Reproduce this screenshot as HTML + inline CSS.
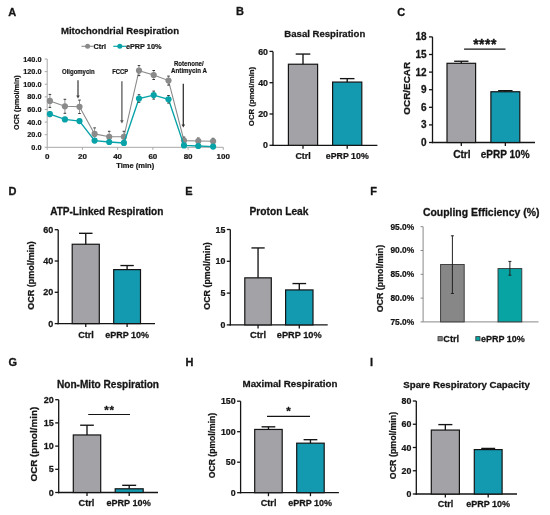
<!DOCTYPE html>
<html><head><meta charset="utf-8"><style>
html,body{margin:0;padding:0;background:#fff;width:550px;height:515px;overflow:hidden}
svg{display:block;font-family:"Liberation Sans",sans-serif;filter:blur(0.3px)}
text{stroke:#1a1a1a;stroke-linejoin:round}
</style></head><body>
<svg width="550" height="515" viewBox="0 0 550 515">
<rect width="550" height="515" fill="#fff"/>
<line x1="47.20" y1="59.03" x2="47.20" y2="147.30" stroke="#a8a8a8" stroke-width="1.0" />
<line x1="47.20" y1="147.30" x2="223.30" y2="147.30" stroke="#a8a8a8" stroke-width="1.0" />
<line x1="44.70" y1="147.30" x2="47.20" y2="147.30" stroke="#a8a8a8" stroke-width="1.0" />
<text x="41.50" y="149.91" font-size="7.3" text-anchor="end" font-weight="bold" fill="#141414" stroke-width="0.204" >0.0</text>
<line x1="44.70" y1="134.69" x2="47.20" y2="134.69" stroke="#a8a8a8" stroke-width="1.0" />
<text x="41.50" y="137.30" font-size="7.3" text-anchor="end" font-weight="bold" fill="#141414" stroke-width="0.204" >20.0</text>
<line x1="44.70" y1="122.08" x2="47.20" y2="122.08" stroke="#a8a8a8" stroke-width="1.0" />
<text x="41.50" y="124.69" font-size="7.3" text-anchor="end" font-weight="bold" fill="#141414" stroke-width="0.204" >40.0</text>
<line x1="44.70" y1="109.47" x2="47.20" y2="109.47" stroke="#a8a8a8" stroke-width="1.0" />
<text x="41.50" y="112.08" font-size="7.3" text-anchor="end" font-weight="bold" fill="#141414" stroke-width="0.204" >60.0</text>
<line x1="44.70" y1="96.86" x2="47.20" y2="96.86" stroke="#a8a8a8" stroke-width="1.0" />
<text x="41.50" y="99.47" font-size="7.3" text-anchor="end" font-weight="bold" fill="#141414" stroke-width="0.204" >80.0</text>
<line x1="44.70" y1="84.25" x2="47.20" y2="84.25" stroke="#a8a8a8" stroke-width="1.0" />
<text x="41.50" y="86.86" font-size="7.3" text-anchor="end" font-weight="bold" fill="#141414" stroke-width="0.204" >100.0</text>
<line x1="44.70" y1="71.64" x2="47.20" y2="71.64" stroke="#a8a8a8" stroke-width="1.0" />
<text x="41.50" y="74.25" font-size="7.3" text-anchor="end" font-weight="bold" fill="#141414" stroke-width="0.204" >120.0</text>
<line x1="44.70" y1="59.03" x2="47.20" y2="59.03" stroke="#a8a8a8" stroke-width="1.0" />
<text x="41.50" y="61.64" font-size="7.3" text-anchor="end" font-weight="bold" fill="#141414" stroke-width="0.204" >140.0</text>
<line x1="47.20" y1="147.30" x2="47.20" y2="149.80" stroke="#a8a8a8" stroke-width="1.0" />
<text x="47.20" y="158.50" font-size="8" text-anchor="middle" font-weight="bold" fill="#141414" stroke-width="0.224" >0</text>
<line x1="82.42" y1="147.30" x2="82.42" y2="149.80" stroke="#a8a8a8" stroke-width="1.0" />
<text x="82.42" y="158.50" font-size="8" text-anchor="middle" font-weight="bold" fill="#141414" stroke-width="0.224" >20</text>
<line x1="117.64" y1="147.30" x2="117.64" y2="149.80" stroke="#a8a8a8" stroke-width="1.0" />
<text x="117.64" y="158.50" font-size="8" text-anchor="middle" font-weight="bold" fill="#141414" stroke-width="0.224" >40</text>
<line x1="152.86" y1="147.30" x2="152.86" y2="149.80" stroke="#a8a8a8" stroke-width="1.0" />
<text x="152.86" y="158.50" font-size="8" text-anchor="middle" font-weight="bold" fill="#141414" stroke-width="0.224" >60</text>
<line x1="188.08" y1="147.30" x2="188.08" y2="149.80" stroke="#a8a8a8" stroke-width="1.0" />
<text x="188.08" y="158.50" font-size="8" text-anchor="middle" font-weight="bold" fill="#141414" stroke-width="0.224" >80</text>
<line x1="223.30" y1="147.30" x2="223.30" y2="149.80" stroke="#a8a8a8" stroke-width="1.0" />
<text x="223.30" y="158.50" font-size="8" text-anchor="middle" font-weight="bold" fill="#141414" stroke-width="0.224" >100</text>
<text x="135.25" y="167.80" font-size="7.5" text-anchor="middle" font-weight="bold" fill="#141414" stroke-width="0.210" >Time (min)</text>
<text x="0" y="0" font-size="7.2" text-anchor="middle" font-weight="bold" fill="#141414" stroke-width="0.202" transform="translate(19.30,102.60) rotate(-90)">OCR (pmol/min)</text>
<polyline fill="none" stroke="#8a8a8a" stroke-width="1.1" points="49.90,100.90 64.90,106.30 79.50,106.80 94.60,133.90 109.20,136.80 123.90,136.80 139.00,70.60 153.70,75.00 168.50,80.60 184.00,140.60 198.30,141.00 213.10,141.30"/>
<line x1="49.90" y1="94.40" x2="49.90" y2="107.40" stroke="#8a8a8a" stroke-width="0.9" />
<line x1="48.60" y1="94.40" x2="51.20" y2="94.40" stroke="#3a3a3a" stroke-width="1.0" />
<line x1="48.60" y1="107.40" x2="51.20" y2="107.40" stroke="#3a3a3a" stroke-width="1.0" />
<line x1="64.90" y1="99.30" x2="64.90" y2="113.30" stroke="#8a8a8a" stroke-width="0.9" />
<line x1="63.60" y1="99.30" x2="66.20" y2="99.30" stroke="#3a3a3a" stroke-width="1.0" />
<line x1="63.60" y1="113.30" x2="66.20" y2="113.30" stroke="#3a3a3a" stroke-width="1.0" />
<line x1="79.50" y1="100.10" x2="79.50" y2="113.50" stroke="#8a8a8a" stroke-width="0.9" />
<line x1="78.20" y1="100.10" x2="80.80" y2="100.10" stroke="#3a3a3a" stroke-width="1.0" />
<line x1="78.20" y1="113.50" x2="80.80" y2="113.50" stroke="#3a3a3a" stroke-width="1.0" />
<line x1="94.60" y1="127.90" x2="94.60" y2="139.90" stroke="#8a8a8a" stroke-width="0.9" />
<line x1="93.30" y1="127.90" x2="95.90" y2="127.90" stroke="#3a3a3a" stroke-width="1.0" />
<line x1="93.30" y1="139.90" x2="95.90" y2="139.90" stroke="#3a3a3a" stroke-width="1.0" />
<line x1="109.20" y1="131.30" x2="109.20" y2="142.30" stroke="#8a8a8a" stroke-width="0.9" />
<line x1="107.90" y1="131.30" x2="110.50" y2="131.30" stroke="#3a3a3a" stroke-width="1.0" />
<line x1="107.90" y1="142.30" x2="110.50" y2="142.30" stroke="#3a3a3a" stroke-width="1.0" />
<line x1="123.90" y1="131.30" x2="123.90" y2="142.30" stroke="#8a8a8a" stroke-width="0.9" />
<line x1="122.60" y1="131.30" x2="125.20" y2="131.30" stroke="#3a3a3a" stroke-width="1.0" />
<line x1="122.60" y1="142.30" x2="125.20" y2="142.30" stroke="#3a3a3a" stroke-width="1.0" />
<line x1="139.00" y1="65.60" x2="139.00" y2="75.60" stroke="#8a8a8a" stroke-width="0.9" />
<line x1="137.70" y1="65.60" x2="140.30" y2="65.60" stroke="#3a3a3a" stroke-width="1.0" />
<line x1="137.70" y1="75.60" x2="140.30" y2="75.60" stroke="#3a3a3a" stroke-width="1.0" />
<line x1="153.70" y1="70.50" x2="153.70" y2="79.50" stroke="#8a8a8a" stroke-width="0.9" />
<line x1="152.40" y1="70.50" x2="155.00" y2="70.50" stroke="#3a3a3a" stroke-width="1.0" />
<line x1="152.40" y1="79.50" x2="155.00" y2="79.50" stroke="#3a3a3a" stroke-width="1.0" />
<line x1="168.50" y1="76.10" x2="168.50" y2="85.10" stroke="#8a8a8a" stroke-width="0.9" />
<line x1="167.20" y1="76.10" x2="169.80" y2="76.10" stroke="#3a3a3a" stroke-width="1.0" />
<line x1="167.20" y1="85.10" x2="169.80" y2="85.10" stroke="#3a3a3a" stroke-width="1.0" />
<line x1="184.00" y1="137.10" x2="184.00" y2="144.10" stroke="#8a8a8a" stroke-width="0.9" />
<line x1="182.70" y1="137.10" x2="185.30" y2="137.10" stroke="#3a3a3a" stroke-width="1.0" />
<line x1="182.70" y1="144.10" x2="185.30" y2="144.10" stroke="#3a3a3a" stroke-width="1.0" />
<line x1="198.30" y1="138.00" x2="198.30" y2="144.00" stroke="#8a8a8a" stroke-width="0.9" />
<line x1="197.00" y1="138.00" x2="199.60" y2="138.00" stroke="#3a3a3a" stroke-width="1.0" />
<line x1="197.00" y1="144.00" x2="199.60" y2="144.00" stroke="#3a3a3a" stroke-width="1.0" />
<line x1="213.10" y1="138.30" x2="213.10" y2="144.30" stroke="#8a8a8a" stroke-width="0.9" />
<line x1="211.80" y1="138.30" x2="214.40" y2="138.30" stroke="#3a3a3a" stroke-width="1.0" />
<line x1="211.80" y1="144.30" x2="214.40" y2="144.30" stroke="#3a3a3a" stroke-width="1.0" />
<circle cx="49.90" cy="100.90" r="3.1" fill="#8a8a8a"/>
<circle cx="64.90" cy="106.30" r="3.1" fill="#8a8a8a"/>
<circle cx="79.50" cy="106.80" r="3.1" fill="#8a8a8a"/>
<circle cx="94.60" cy="133.90" r="3.1" fill="#8a8a8a"/>
<circle cx="109.20" cy="136.80" r="3.1" fill="#8a8a8a"/>
<circle cx="123.90" cy="136.80" r="3.1" fill="#8a8a8a"/>
<circle cx="139.00" cy="70.60" r="3.1" fill="#8a8a8a"/>
<circle cx="153.70" cy="75.00" r="3.1" fill="#8a8a8a"/>
<circle cx="168.50" cy="80.60" r="3.1" fill="#8a8a8a"/>
<circle cx="184.00" cy="140.60" r="3.1" fill="#8a8a8a"/>
<circle cx="198.30" cy="141.00" r="3.1" fill="#8a8a8a"/>
<circle cx="213.10" cy="141.30" r="3.1" fill="#8a8a8a"/>
<polyline fill="none" stroke="#08a3a8" stroke-width="1.4" points="49.90,114.10 64.90,119.40 79.50,121.10 94.60,140.60 109.20,142.00 123.90,142.90 139.00,98.50 153.70,95.10 168.50,99.30 184.00,145.40 198.30,146.00 213.10,146.60"/>
<line x1="49.90" y1="111.60" x2="49.90" y2="116.60" stroke="#08a3a8" stroke-width="0.9" />
<line x1="48.60" y1="111.60" x2="51.20" y2="111.60" stroke="#3a3a3a" stroke-width="1.0" />
<line x1="48.60" y1="116.60" x2="51.20" y2="116.60" stroke="#3a3a3a" stroke-width="1.0" />
<line x1="64.90" y1="117.40" x2="64.90" y2="121.40" stroke="#08a3a8" stroke-width="0.9" />
<line x1="63.60" y1="117.40" x2="66.20" y2="117.40" stroke="#3a3a3a" stroke-width="1.0" />
<line x1="63.60" y1="121.40" x2="66.20" y2="121.40" stroke="#3a3a3a" stroke-width="1.0" />
<line x1="79.50" y1="119.10" x2="79.50" y2="123.10" stroke="#08a3a8" stroke-width="0.9" />
<line x1="78.20" y1="119.10" x2="80.80" y2="119.10" stroke="#3a3a3a" stroke-width="1.0" />
<line x1="78.20" y1="123.10" x2="80.80" y2="123.10" stroke="#3a3a3a" stroke-width="1.0" />
<line x1="94.60" y1="138.60" x2="94.60" y2="142.60" stroke="#08a3a8" stroke-width="0.9" />
<line x1="93.30" y1="138.60" x2="95.90" y2="138.60" stroke="#3a3a3a" stroke-width="1.0" />
<line x1="93.30" y1="142.60" x2="95.90" y2="142.60" stroke="#3a3a3a" stroke-width="1.0" />
<line x1="109.20" y1="140.00" x2="109.20" y2="144.00" stroke="#08a3a8" stroke-width="0.9" />
<line x1="107.90" y1="140.00" x2="110.50" y2="140.00" stroke="#3a3a3a" stroke-width="1.0" />
<line x1="107.90" y1="144.00" x2="110.50" y2="144.00" stroke="#3a3a3a" stroke-width="1.0" />
<line x1="123.90" y1="140.90" x2="123.90" y2="144.90" stroke="#08a3a8" stroke-width="0.9" />
<line x1="122.60" y1="140.90" x2="125.20" y2="140.90" stroke="#3a3a3a" stroke-width="1.0" />
<line x1="122.60" y1="144.90" x2="125.20" y2="144.90" stroke="#3a3a3a" stroke-width="1.0" />
<line x1="139.00" y1="94.70" x2="139.00" y2="102.30" stroke="#08a3a8" stroke-width="0.9" />
<line x1="137.70" y1="94.70" x2="140.30" y2="94.70" stroke="#3a3a3a" stroke-width="1.0" />
<line x1="137.70" y1="102.30" x2="140.30" y2="102.30" stroke="#3a3a3a" stroke-width="1.0" />
<line x1="153.70" y1="91.10" x2="153.70" y2="99.10" stroke="#08a3a8" stroke-width="0.9" />
<line x1="152.40" y1="91.10" x2="155.00" y2="91.10" stroke="#3a3a3a" stroke-width="1.0" />
<line x1="152.40" y1="99.10" x2="155.00" y2="99.10" stroke="#3a3a3a" stroke-width="1.0" />
<line x1="168.50" y1="95.50" x2="168.50" y2="103.10" stroke="#08a3a8" stroke-width="0.9" />
<line x1="167.20" y1="95.50" x2="169.80" y2="95.50" stroke="#3a3a3a" stroke-width="1.0" />
<line x1="167.20" y1="103.10" x2="169.80" y2="103.10" stroke="#3a3a3a" stroke-width="1.0" />
<line x1="184.00" y1="143.90" x2="184.00" y2="146.90" stroke="#08a3a8" stroke-width="0.9" />
<line x1="182.70" y1="143.90" x2="185.30" y2="143.90" stroke="#3a3a3a" stroke-width="1.0" />
<line x1="182.70" y1="146.90" x2="185.30" y2="146.90" stroke="#3a3a3a" stroke-width="1.0" />
<line x1="198.30" y1="144.50" x2="198.30" y2="147.50" stroke="#08a3a8" stroke-width="0.9" />
<line x1="197.00" y1="144.50" x2="199.60" y2="144.50" stroke="#3a3a3a" stroke-width="1.0" />
<line x1="197.00" y1="147.50" x2="199.60" y2="147.50" stroke="#3a3a3a" stroke-width="1.0" />
<line x1="213.10" y1="145.10" x2="213.10" y2="148.10" stroke="#08a3a8" stroke-width="0.9" />
<line x1="211.80" y1="145.10" x2="214.40" y2="145.10" stroke="#3a3a3a" stroke-width="1.0" />
<line x1="211.80" y1="148.10" x2="214.40" y2="148.10" stroke="#3a3a3a" stroke-width="1.0" />
<circle cx="49.90" cy="114.10" r="3.1" fill="#08a3a8"/>
<circle cx="64.90" cy="119.40" r="3.1" fill="#08a3a8"/>
<circle cx="79.50" cy="121.10" r="3.1" fill="#08a3a8"/>
<circle cx="94.60" cy="140.60" r="3.1" fill="#08a3a8"/>
<circle cx="109.20" cy="142.00" r="3.1" fill="#08a3a8"/>
<circle cx="123.90" cy="142.90" r="3.1" fill="#08a3a8"/>
<circle cx="139.00" cy="98.50" r="3.1" fill="#08a3a8"/>
<circle cx="153.70" cy="95.10" r="3.1" fill="#08a3a8"/>
<circle cx="168.50" cy="99.30" r="3.1" fill="#08a3a8"/>
<circle cx="184.00" cy="145.40" r="3.1" fill="#08a3a8"/>
<circle cx="198.30" cy="146.00" r="3.1" fill="#08a3a8"/>
<circle cx="213.10" cy="146.60" r="3.1" fill="#08a3a8"/>
<line x1="78.00" y1="80.30" x2="78.00" y2="96.10" stroke="#444" stroke-width="1.3" />
<polygon points="76.20,95.40 79.80,95.40 78.00,98.60" fill="#444"/>
<line x1="121.90" y1="81.30" x2="121.90" y2="121.00" stroke="#5a5a5a" stroke-width="1.3" />
<polygon points="120.10,120.30 123.70,120.30 121.90,123.50" fill="#5a5a5a"/>
<line x1="183.30" y1="83.70" x2="183.30" y2="125.10" stroke="#333" stroke-width="1.3" />
<polygon points="181.50,124.40 185.10,124.40 183.30,127.60" fill="#333"/>
<text x="78.30" y="73.50" font-size="6.5" text-anchor="middle" font-weight="bold" fill="#141414" stroke-width="0.182" textLength="32.6" lengthAdjust="spacingAndGlyphs">Oligomycin</text>
<text x="120.20" y="73.50" font-size="6.5" text-anchor="middle" font-weight="bold" fill="#141414" stroke-width="0.182" textLength="16.0" lengthAdjust="spacingAndGlyphs">FCCP</text>
<text x="188.80" y="65.70" font-size="6.5" text-anchor="middle" font-weight="bold" fill="#141414" stroke-width="0.182" textLength="29.8" lengthAdjust="spacingAndGlyphs">Rotenone/</text>
<text x="189.00" y="73.30" font-size="6.5" text-anchor="middle" font-weight="bold" fill="#141414" stroke-width="0.182" textLength="35.8" lengthAdjust="spacingAndGlyphs">Antimycin A</text>
<text x="120.00" y="34.30" font-size="9.58" text-anchor="middle" font-weight="bold" fill="#141414" stroke-width="0.268" >Mitochondrial Respiration</text>
<line x1="81.50" y1="46.30" x2="93.20" y2="46.30" stroke="#8a8a8a" stroke-width="1.1" />
<circle cx="87.60" cy="46.30" r="2.5" fill="#8a8a8a"/>
<text x="93.50" y="48.90" font-size="7.3" text-anchor="start" font-weight="bold" fill="#141414" stroke-width="0.204" >Ctrl</text>
<line x1="113.30" y1="46.30" x2="126.00" y2="46.30" stroke="#08a3a8" stroke-width="1.2" />
<circle cx="119.80" cy="46.30" r="2.5" fill="#08a3a8"/>
<text x="125.90" y="48.90" font-size="7.3" text-anchor="start" font-weight="bold" fill="#141414" stroke-width="0.204" >ePRP 10%</text>
<text x="8.20" y="16.20" font-size="11" text-anchor="start" font-weight="bold" fill="#141414" stroke-width="0.308" >A</text>
<line x1="273.00" y1="51.40" x2="273.00" y2="145.95" stroke="#141414" stroke-width="1.3" />
<line x1="272.35" y1="145.30" x2="377.40" y2="145.30" stroke="#141414" stroke-width="1.3" />
<line x1="269.50" y1="145.30" x2="273.00" y2="145.30" stroke="#141414" stroke-width="1.3" />
<text x="268.00" y="148.41" font-size="8.8" text-anchor="end" font-weight="bold" fill="#141414" stroke-width="0.246" >0</text>
<line x1="269.50" y1="114.00" x2="273.00" y2="114.00" stroke="#141414" stroke-width="1.3" />
<text x="268.00" y="117.11" font-size="8.8" text-anchor="end" font-weight="bold" fill="#141414" stroke-width="0.246" >20</text>
<line x1="269.50" y1="82.70" x2="273.00" y2="82.70" stroke="#141414" stroke-width="1.3" />
<text x="268.00" y="85.81" font-size="8.8" text-anchor="end" font-weight="bold" fill="#141414" stroke-width="0.246" >40</text>
<line x1="269.50" y1="51.40" x2="273.00" y2="51.40" stroke="#141414" stroke-width="1.3" />
<text x="268.00" y="54.51" font-size="8.8" text-anchor="end" font-weight="bold" fill="#141414" stroke-width="0.246" >60</text>
<rect x="288.40" y="64.23" width="29.20" height="81.07" fill="#a3a2a6" stroke="#141414" stroke-width="1.2"/>
<line x1="303.00" y1="64.23" x2="303.00" y2="54.06" stroke="#141414" stroke-width="1.35" />
<line x1="295.70" y1="54.06" x2="310.30" y2="54.06" stroke="#141414" stroke-width="1.35" />
<line x1="303.00" y1="145.30" x2="303.00" y2="148.80" stroke="#141414" stroke-width="1.3" />
<rect x="332.60" y="82.07" width="29.20" height="63.23" fill="#1399b0" stroke="#141414" stroke-width="1.2"/>
<line x1="347.20" y1="82.07" x2="347.20" y2="78.63" stroke="#141414" stroke-width="1.35" />
<line x1="339.90" y1="78.63" x2="354.50" y2="78.63" stroke="#141414" stroke-width="1.35" />
<line x1="347.20" y1="145.30" x2="347.20" y2="148.80" stroke="#141414" stroke-width="1.3" />
<text x="303.10" y="158.60" font-size="8.9" text-anchor="middle" font-weight="bold" fill="#141414" stroke-width="0.249" >Ctrl</text>
<text x="347.30" y="158.60" font-size="8.8" text-anchor="middle" font-weight="bold" fill="#141414" stroke-width="0.246" >ePRP 10%</text>
<text x="324.80" y="36.60" font-size="9.59" text-anchor="middle" font-weight="bold" fill="#141414" stroke-width="0.269" >Basal Respiration</text>
<text x="236.00" y="15.40" font-size="11" text-anchor="start" font-weight="bold" fill="#141414" stroke-width="0.308" >B</text>
<text x="0" y="0" font-size="7.8" text-anchor="middle" font-weight="bold" fill="#141414" stroke-width="0.218" transform="translate(253.90,96.50) rotate(-90)">OCR (pmol/min)</text>
<line x1="432.50" y1="36.90" x2="432.50" y2="143.15" stroke="#141414" stroke-width="1.3" />
<line x1="431.85" y1="142.50" x2="535.00" y2="142.50" stroke="#141414" stroke-width="1.3" />
<line x1="429.00" y1="142.50" x2="432.50" y2="142.50" stroke="#141414" stroke-width="1.3" />
<text x="426.50" y="146.03" font-size="10" text-anchor="end" font-weight="bold" fill="#141414" stroke-width="0.280" >0</text>
<line x1="429.00" y1="124.90" x2="432.50" y2="124.90" stroke="#141414" stroke-width="1.3" />
<text x="426.50" y="128.44" font-size="10" text-anchor="end" font-weight="bold" fill="#141414" stroke-width="0.280" >3</text>
<line x1="429.00" y1="107.30" x2="432.50" y2="107.30" stroke="#141414" stroke-width="1.3" />
<text x="426.50" y="110.83" font-size="10" text-anchor="end" font-weight="bold" fill="#141414" stroke-width="0.280" >6</text>
<line x1="429.00" y1="89.70" x2="432.50" y2="89.70" stroke="#141414" stroke-width="1.3" />
<text x="426.50" y="93.23" font-size="10" text-anchor="end" font-weight="bold" fill="#141414" stroke-width="0.280" >9</text>
<line x1="429.00" y1="72.10" x2="432.50" y2="72.10" stroke="#141414" stroke-width="1.3" />
<text x="426.50" y="75.63" font-size="10" text-anchor="end" font-weight="bold" fill="#141414" stroke-width="0.280" >12</text>
<line x1="429.00" y1="54.50" x2="432.50" y2="54.50" stroke="#141414" stroke-width="1.3" />
<text x="426.50" y="58.03" font-size="10" text-anchor="end" font-weight="bold" fill="#141414" stroke-width="0.280" >15</text>
<line x1="429.00" y1="36.90" x2="432.50" y2="36.90" stroke="#141414" stroke-width="1.3" />
<text x="426.50" y="40.43" font-size="10" text-anchor="end" font-weight="bold" fill="#141414" stroke-width="0.280" >18</text>
<rect x="447.00" y="63.30" width="28.60" height="79.20" fill="#a3a2a6" stroke="#141414" stroke-width="1.2"/>
<line x1="461.30" y1="63.30" x2="461.30" y2="61.25" stroke="#141414" stroke-width="1.35" />
<line x1="454.15" y1="61.25" x2="468.45" y2="61.25" stroke="#141414" stroke-width="1.35" />
<line x1="461.30" y1="142.50" x2="461.30" y2="146.00" stroke="#141414" stroke-width="1.3" />
<rect x="490.90" y="91.75" width="28.90" height="50.75" fill="#1399b0" stroke="#141414" stroke-width="1.2"/>
<line x1="505.35" y1="91.75" x2="505.35" y2="90.70" stroke="#141414" stroke-width="1.35" />
<line x1="498.12" y1="90.70" x2="512.57" y2="90.70" stroke="#141414" stroke-width="1.35" />
<line x1="505.35" y1="142.50" x2="505.35" y2="146.00" stroke="#141414" stroke-width="1.3" />
<text x="461.90" y="157.60" font-size="10.2" text-anchor="middle" font-weight="bold" fill="#141414" stroke-width="0.286" >Ctrl</text>
<text x="505.20" y="157.60" font-size="10.0" text-anchor="middle" font-weight="bold" fill="#141414" stroke-width="0.280" >ePRP 10%</text>
<text x="0.00" y="0.00" font-size="9" text-anchor="middle" font-weight="bold" fill="#141414" stroke-width="0.252" ></text>
<text x="397.30" y="16.00" font-size="11" text-anchor="start" font-weight="bold" fill="#141414" stroke-width="0.308" >C</text>
<text x="0" y="0" font-size="9.9" text-anchor="middle" font-weight="bold" fill="#141414" stroke-width="0.277" transform="translate(409.80,88.30) rotate(-90)">OCR/ECAR</text>
<line x1="464.10" y1="49.10" x2="505.50" y2="49.10" stroke="#141414" stroke-width="1.1" />
<text x="485.05" y="49.00" font-size="14" text-anchor="middle" font-weight="bold" fill="#141414" stroke-width="0.392" letter-spacing="0.5">****</text>
<line x1="58.20" y1="229.70" x2="58.20" y2="324.25" stroke="#141414" stroke-width="1.3" />
<line x1="57.55" y1="323.60" x2="155.00" y2="323.60" stroke="#141414" stroke-width="1.3" />
<line x1="54.70" y1="323.60" x2="58.20" y2="323.60" stroke="#141414" stroke-width="1.3" />
<text x="53.20" y="326.78" font-size="9" text-anchor="end" font-weight="bold" fill="#141414" stroke-width="0.252" >0</text>
<line x1="54.70" y1="292.30" x2="58.20" y2="292.30" stroke="#141414" stroke-width="1.3" />
<text x="53.20" y="295.48" font-size="9" text-anchor="end" font-weight="bold" fill="#141414" stroke-width="0.252" >20</text>
<line x1="54.70" y1="261.00" x2="58.20" y2="261.00" stroke="#141414" stroke-width="1.3" />
<text x="53.20" y="264.18" font-size="9" text-anchor="end" font-weight="bold" fill="#141414" stroke-width="0.252" >40</text>
<line x1="54.70" y1="229.70" x2="58.20" y2="229.70" stroke="#141414" stroke-width="1.3" />
<text x="53.20" y="232.88" font-size="9" text-anchor="end" font-weight="bold" fill="#141414" stroke-width="0.252" >60</text>
<rect x="72.20" y="244.25" width="27.10" height="79.35" fill="#a3a2a6" stroke="#141414" stroke-width="1.2"/>
<line x1="85.75" y1="244.25" x2="85.75" y2="233.30" stroke="#141414" stroke-width="1.35" />
<line x1="78.97" y1="233.30" x2="92.53" y2="233.30" stroke="#141414" stroke-width="1.35" />
<line x1="85.75" y1="323.60" x2="85.75" y2="327.10" stroke="#141414" stroke-width="1.3" />
<rect x="113.70" y="269.61" width="26.80" height="53.99" fill="#1399b0" stroke="#141414" stroke-width="1.2"/>
<line x1="127.10" y1="269.61" x2="127.10" y2="265.54" stroke="#141414" stroke-width="1.35" />
<line x1="120.40" y1="265.54" x2="133.80" y2="265.54" stroke="#141414" stroke-width="1.35" />
<line x1="127.10" y1="323.60" x2="127.10" y2="327.10" stroke="#141414" stroke-width="1.3" />
<text x="86.00" y="337.90" font-size="9.1" text-anchor="middle" font-weight="bold" fill="#141414" stroke-width="0.255" >Ctrl</text>
<text x="127.20" y="337.90" font-size="9.0" text-anchor="middle" font-weight="bold" fill="#141414" stroke-width="0.252" >ePRP 10%</text>
<text x="106.75" y="215.40" font-size="10.05" text-anchor="middle" font-weight="bold" fill="#141414" stroke-width="0.281" >ATP-Linked Respiration</text>
<text x="8.60" y="194.60" font-size="11" text-anchor="start" font-weight="bold" fill="#141414" stroke-width="0.308" >D</text>
<text x="0" y="0" font-size="9.0" text-anchor="middle" font-weight="bold" fill="#141414" stroke-width="0.252" transform="translate(34.20,275.50) rotate(-90)">OCR (pmol/min)</text>
<line x1="230.30" y1="229.50" x2="230.30" y2="325.55" stroke="#141414" stroke-width="1.3" />
<line x1="229.65" y1="324.90" x2="327.70" y2="324.90" stroke="#141414" stroke-width="1.3" />
<line x1="226.80" y1="324.90" x2="230.30" y2="324.90" stroke="#141414" stroke-width="1.3" />
<text x="225.30" y="328.01" font-size="8.8" text-anchor="end" font-weight="bold" fill="#141414" stroke-width="0.246" >0</text>
<line x1="226.80" y1="293.10" x2="230.30" y2="293.10" stroke="#141414" stroke-width="1.3" />
<text x="225.30" y="296.21" font-size="8.8" text-anchor="end" font-weight="bold" fill="#141414" stroke-width="0.246" >5</text>
<line x1="226.80" y1="261.30" x2="230.30" y2="261.30" stroke="#141414" stroke-width="1.3" />
<text x="225.30" y="264.41" font-size="8.8" text-anchor="end" font-weight="bold" fill="#141414" stroke-width="0.246" >10</text>
<line x1="226.80" y1="229.50" x2="230.30" y2="229.50" stroke="#141414" stroke-width="1.3" />
<text x="225.30" y="232.61" font-size="8.8" text-anchor="end" font-weight="bold" fill="#141414" stroke-width="0.246" >15</text>
<rect x="244.80" y="277.84" width="26.50" height="47.06" fill="#a3a2a6" stroke="#141414" stroke-width="1.2"/>
<line x1="258.05" y1="277.84" x2="258.05" y2="247.94" stroke="#141414" stroke-width="1.35" />
<line x1="251.43" y1="247.94" x2="264.68" y2="247.94" stroke="#141414" stroke-width="1.35" />
<line x1="258.05" y1="324.90" x2="258.05" y2="328.40" stroke="#141414" stroke-width="1.3" />
<rect x="285.60" y="289.92" width="27.40" height="34.98" fill="#1399b0" stroke="#141414" stroke-width="1.2"/>
<line x1="299.30" y1="289.92" x2="299.30" y2="283.56" stroke="#141414" stroke-width="1.35" />
<line x1="292.45" y1="283.56" x2="306.15" y2="283.56" stroke="#141414" stroke-width="1.35" />
<line x1="299.30" y1="324.90" x2="299.30" y2="328.40" stroke="#141414" stroke-width="1.3" />
<text x="258.00" y="338.20" font-size="9.3" text-anchor="middle" font-weight="bold" fill="#141414" stroke-width="0.260" >Ctrl</text>
<text x="299.20" y="338.20" font-size="9.2" text-anchor="middle" font-weight="bold" fill="#141414" stroke-width="0.258" >ePRP 10%</text>
<text x="279.00" y="215.20" font-size="10.2" text-anchor="middle" font-weight="bold" fill="#141414" stroke-width="0.286" >Proton Leak</text>
<text x="185.20" y="194.50" font-size="11" text-anchor="start" font-weight="bold" fill="#141414" stroke-width="0.308" >E</text>
<text x="0" y="0" font-size="8.9" text-anchor="middle" font-weight="bold" fill="#141414" stroke-width="0.249" transform="translate(210.00,276.00) rotate(-90)">OCR (pmol/min)</text>
<line x1="58.70" y1="399.70" x2="58.70" y2="493.15" stroke="#141414" stroke-width="1.3" />
<line x1="58.05" y1="492.50" x2="158.00" y2="492.50" stroke="#141414" stroke-width="1.3" />
<line x1="55.20" y1="492.50" x2="58.70" y2="492.50" stroke="#141414" stroke-width="1.3" />
<text x="53.70" y="495.68" font-size="9" text-anchor="end" font-weight="bold" fill="#141414" stroke-width="0.252" >0</text>
<line x1="55.20" y1="469.30" x2="58.70" y2="469.30" stroke="#141414" stroke-width="1.3" />
<text x="53.70" y="472.48" font-size="9" text-anchor="end" font-weight="bold" fill="#141414" stroke-width="0.252" >5</text>
<line x1="55.20" y1="446.10" x2="58.70" y2="446.10" stroke="#141414" stroke-width="1.3" />
<text x="53.70" y="449.28" font-size="9" text-anchor="end" font-weight="bold" fill="#141414" stroke-width="0.252" >10</text>
<line x1="55.20" y1="422.90" x2="58.70" y2="422.90" stroke="#141414" stroke-width="1.3" />
<text x="53.70" y="426.08" font-size="9" text-anchor="end" font-weight="bold" fill="#141414" stroke-width="0.252" >15</text>
<line x1="55.20" y1="399.70" x2="58.70" y2="399.70" stroke="#141414" stroke-width="1.3" />
<text x="53.70" y="402.88" font-size="9" text-anchor="end" font-weight="bold" fill="#141414" stroke-width="0.252" >20</text>
<rect x="73.30" y="434.96" width="27.40" height="57.54" fill="#a3a2a6" stroke="#141414" stroke-width="1.2"/>
<line x1="87.00" y1="434.96" x2="87.00" y2="425.22" stroke="#141414" stroke-width="1.35" />
<line x1="80.15" y1="425.22" x2="93.85" y2="425.22" stroke="#141414" stroke-width="1.35" />
<line x1="87.00" y1="492.50" x2="87.00" y2="496.00" stroke="#141414" stroke-width="1.3" />
<rect x="115.20" y="488.79" width="28.00" height="3.71" fill="#1399b0" stroke="#141414" stroke-width="1.2"/>
<line x1="129.20" y1="488.79" x2="129.20" y2="485.31" stroke="#141414" stroke-width="1.35" />
<line x1="122.20" y1="485.31" x2="136.20" y2="485.31" stroke="#141414" stroke-width="1.35" />
<line x1="129.20" y1="492.50" x2="129.20" y2="496.00" stroke="#141414" stroke-width="1.3" />
<text x="86.50" y="505.80" font-size="9.2" text-anchor="middle" font-weight="bold" fill="#141414" stroke-width="0.258" >Ctrl</text>
<text x="128.60" y="505.80" font-size="9.1" text-anchor="middle" font-weight="bold" fill="#141414" stroke-width="0.255" >ePRP 10%</text>
<text x="108.00" y="388.00" font-size="10.1" text-anchor="middle" font-weight="bold" fill="#141414" stroke-width="0.283" >Non-Mito Respiration</text>
<text x="8.40" y="366.00" font-size="11" text-anchor="start" font-weight="bold" fill="#141414" stroke-width="0.308" >G</text>
<text x="0" y="0" font-size="9.8" text-anchor="middle" font-weight="bold" fill="#141414" stroke-width="0.274" transform="translate(37.40,444.10) rotate(-90)">OCR (pmol/min)</text>
<line x1="88.20" y1="414.50" x2="130.00" y2="414.50" stroke="#141414" stroke-width="1.1" />
<text x="109.50" y="414.30" font-size="11.5" text-anchor="middle" font-weight="bold" fill="#141414" stroke-width="0.322" letter-spacing="0.8">**</text>
<line x1="240.60" y1="401.20" x2="240.60" y2="493.35" stroke="#141414" stroke-width="1.3" />
<line x1="239.95" y1="492.70" x2="338.90" y2="492.70" stroke="#141414" stroke-width="1.3" />
<line x1="237.10" y1="492.70" x2="240.60" y2="492.70" stroke="#141414" stroke-width="1.3" />
<text x="235.60" y="495.81" font-size="8.8" text-anchor="end" font-weight="bold" fill="#141414" stroke-width="0.246" >0</text>
<line x1="237.10" y1="462.20" x2="240.60" y2="462.20" stroke="#141414" stroke-width="1.3" />
<text x="235.60" y="465.31" font-size="8.8" text-anchor="end" font-weight="bold" fill="#141414" stroke-width="0.246" >50</text>
<line x1="237.10" y1="431.70" x2="240.60" y2="431.70" stroke="#141414" stroke-width="1.3" />
<text x="235.60" y="434.81" font-size="8.8" text-anchor="end" font-weight="bold" fill="#141414" stroke-width="0.246" >100</text>
<line x1="237.10" y1="401.20" x2="240.60" y2="401.20" stroke="#141414" stroke-width="1.3" />
<text x="235.60" y="404.31" font-size="8.8" text-anchor="end" font-weight="bold" fill="#141414" stroke-width="0.246" >150</text>
<rect x="254.70" y="429.44" width="27.50" height="63.26" fill="#a3a2a6" stroke="#141414" stroke-width="1.2"/>
<line x1="268.45" y1="429.44" x2="268.45" y2="426.82" stroke="#141414" stroke-width="1.35" />
<line x1="261.57" y1="426.82" x2="275.32" y2="426.82" stroke="#141414" stroke-width="1.35" />
<line x1="268.45" y1="492.70" x2="268.45" y2="496.20" stroke="#141414" stroke-width="1.3" />
<rect x="296.70" y="443.17" width="27.50" height="49.53" fill="#1399b0" stroke="#141414" stroke-width="1.2"/>
<line x1="310.45" y1="443.17" x2="310.45" y2="439.69" stroke="#141414" stroke-width="1.35" />
<line x1="303.57" y1="439.69" x2="317.32" y2="439.69" stroke="#141414" stroke-width="1.35" />
<line x1="310.45" y1="492.70" x2="310.45" y2="496.20" stroke="#141414" stroke-width="1.3" />
<text x="268.60" y="506.20" font-size="9.1" text-anchor="middle" font-weight="bold" fill="#141414" stroke-width="0.255" >Ctrl</text>
<text x="310.10" y="506.20" font-size="9.0" text-anchor="middle" font-weight="bold" fill="#141414" stroke-width="0.252" >ePRP 10%</text>
<text x="290.00" y="387.30" font-size="9.77" text-anchor="middle" font-weight="bold" fill="#141414" stroke-width="0.274" >Maximal Respiration</text>
<text x="185.60" y="366.00" font-size="11" text-anchor="start" font-weight="bold" fill="#141414" stroke-width="0.308" >H</text>
<text x="0" y="0" font-size="8.6" text-anchor="middle" font-weight="bold" fill="#141414" stroke-width="0.241" transform="translate(214.60,445.50) rotate(-90)">OCR (pmol/min)</text>
<line x1="267.00" y1="416.40" x2="310.00" y2="416.40" stroke="#141414" stroke-width="1.1" />
<text x="288.50" y="415.00" font-size="11.5" text-anchor="middle" font-weight="bold" fill="#141414" stroke-width="0.322" letter-spacing="0">*</text>
<line x1="416.30" y1="401.00" x2="416.30" y2="494.65" stroke="#141414" stroke-width="1.3" />
<line x1="415.65" y1="494.00" x2="517.00" y2="494.00" stroke="#141414" stroke-width="1.3" />
<line x1="412.80" y1="494.00" x2="416.30" y2="494.00" stroke="#141414" stroke-width="1.3" />
<text x="411.30" y="497.11" font-size="8.8" text-anchor="end" font-weight="bold" fill="#141414" stroke-width="0.246" >0</text>
<line x1="412.80" y1="470.75" x2="416.30" y2="470.75" stroke="#141414" stroke-width="1.3" />
<text x="411.30" y="473.86" font-size="8.8" text-anchor="end" font-weight="bold" fill="#141414" stroke-width="0.246" >20</text>
<line x1="412.80" y1="447.50" x2="416.30" y2="447.50" stroke="#141414" stroke-width="1.3" />
<text x="411.30" y="450.61" font-size="8.8" text-anchor="end" font-weight="bold" fill="#141414" stroke-width="0.246" >40</text>
<line x1="412.80" y1="424.25" x2="416.30" y2="424.25" stroke="#141414" stroke-width="1.3" />
<text x="411.30" y="427.36" font-size="8.8" text-anchor="end" font-weight="bold" fill="#141414" stroke-width="0.246" >60</text>
<line x1="412.80" y1="401.00" x2="416.30" y2="401.00" stroke="#141414" stroke-width="1.3" />
<text x="411.30" y="404.11" font-size="8.8" text-anchor="end" font-weight="bold" fill="#141414" stroke-width="0.246" >80</text>
<rect x="431.30" y="430.06" width="28.10" height="63.94" fill="#a3a2a6" stroke="#141414" stroke-width="1.2"/>
<line x1="445.35" y1="430.06" x2="445.35" y2="424.60" stroke="#141414" stroke-width="1.35" />
<line x1="438.33" y1="424.60" x2="452.38" y2="424.60" stroke="#141414" stroke-width="1.35" />
<line x1="445.35" y1="494.00" x2="445.35" y2="497.50" stroke="#141414" stroke-width="1.3" />
<rect x="474.30" y="449.59" width="27.80" height="44.41" fill="#1399b0" stroke="#141414" stroke-width="1.2"/>
<line x1="488.20" y1="449.59" x2="488.20" y2="448.43" stroke="#141414" stroke-width="1.35" />
<line x1="481.25" y1="448.43" x2="495.15" y2="448.43" stroke="#141414" stroke-width="1.35" />
<line x1="488.20" y1="494.00" x2="488.20" y2="497.50" stroke="#141414" stroke-width="1.3" />
<text x="445.40" y="507.00" font-size="9.0" text-anchor="middle" font-weight="bold" fill="#141414" stroke-width="0.252" >Ctrl</text>
<text x="488.10" y="507.00" font-size="9.0" text-anchor="middle" font-weight="bold" fill="#141414" stroke-width="0.252" >ePRP 10%</text>
<text x="466.60" y="387.50" font-size="9.7" text-anchor="middle" font-weight="bold" fill="#141414" stroke-width="0.272" >Spare Respiratory Capacity</text>
<text x="370.00" y="366.00" font-size="11" text-anchor="start" font-weight="bold" fill="#141414" stroke-width="0.308" >I</text>
<text x="0" y="0" font-size="8.85" text-anchor="middle" font-weight="bold" fill="#141414" stroke-width="0.248" transform="translate(395.50,445.50) rotate(-90)">OCR (pmol/min)</text>
<line x1="423.10" y1="226.70" x2="423.10" y2="321.90" stroke="#888888" stroke-width="1.0" />
<line x1="423.10" y1="321.90" x2="538.50" y2="321.90" stroke="#888888" stroke-width="1.0" />
<line x1="420.60" y1="321.90" x2="423.10" y2="321.90" stroke="#888888" stroke-width="1.0" />
<text x="414.20" y="324.87" font-size="8.4" text-anchor="end" font-weight="bold" fill="#141414" stroke-width="0.235" >75.0%</text>
<line x1="420.60" y1="298.10" x2="423.10" y2="298.10" stroke="#888888" stroke-width="1.0" />
<text x="414.20" y="301.07" font-size="8.4" text-anchor="end" font-weight="bold" fill="#141414" stroke-width="0.235" >80.0%</text>
<line x1="420.60" y1="274.30" x2="423.10" y2="274.30" stroke="#888888" stroke-width="1.0" />
<text x="414.20" y="277.27" font-size="8.4" text-anchor="end" font-weight="bold" fill="#141414" stroke-width="0.235" >85.0%</text>
<line x1="420.60" y1="250.50" x2="423.10" y2="250.50" stroke="#888888" stroke-width="1.0" />
<text x="414.20" y="253.47" font-size="8.4" text-anchor="end" font-weight="bold" fill="#141414" stroke-width="0.235" >90.0%</text>
<line x1="420.60" y1="226.70" x2="423.10" y2="226.70" stroke="#888888" stroke-width="1.0" />
<text x="414.20" y="229.67" font-size="8.4" text-anchor="end" font-weight="bold" fill="#141414" stroke-width="0.235" >95.0%</text>
<rect x="440.60" y="264.54" width="23.60" height="57.36" fill="#878787" stroke="#333" stroke-width="0.9"/>
<rect x="498.00" y="268.59" width="23.80" height="53.31" fill="#08a4a4" stroke="#333" stroke-width="0.9"/>
<line x1="452.40" y1="235.80" x2="452.40" y2="293.50" stroke="#222" stroke-width="1.0" />
<line x1="450.90" y1="235.80" x2="453.90" y2="235.80" stroke="#222" stroke-width="1.0" />
<line x1="450.90" y1="293.50" x2="453.90" y2="293.50" stroke="#222" stroke-width="1.0" />
<line x1="509.90" y1="261.40" x2="509.90" y2="275.20" stroke="#222" stroke-width="1.0" />
<line x1="508.40" y1="261.40" x2="511.40" y2="261.40" stroke="#222" stroke-width="1.0" />
<line x1="508.40" y1="275.20" x2="511.40" y2="275.20" stroke="#222" stroke-width="1.0" />
<rect x="438.00" y="336.60" width="4.20" height="4.20" fill="#878787" stroke="#333" stroke-width="0.8"/>
<text x="443.30" y="341.60" font-size="9.2" text-anchor="start" font-weight="bold" fill="#141414" stroke-width="0.258" >Ctrl</text>
<rect x="475.80" y="336.60" width="4.20" height="4.20" fill="#08a4a4" stroke="#333" stroke-width="0.8"/>
<text x="481.00" y="341.60" font-size="9.0" text-anchor="start" font-weight="bold" fill="#141414" stroke-width="0.252" >ePRP 10%</text>
<text x="481.20" y="216.10" font-size="10.45" text-anchor="middle" font-weight="bold" fill="#141414" stroke-width="0.293" >Coupling Efficiency (%)</text>
<text x="370.20" y="194.60" font-size="11" text-anchor="start" font-weight="bold" fill="#141414" stroke-width="0.308" >F</text>
<text x="0" y="0" font-size="8.9" text-anchor="middle" font-weight="bold" fill="#141414" stroke-width="0.249" transform="translate(382.60,278.60) rotate(-90)">OCR (pmol/min)</text>
</svg>
</body></html>
